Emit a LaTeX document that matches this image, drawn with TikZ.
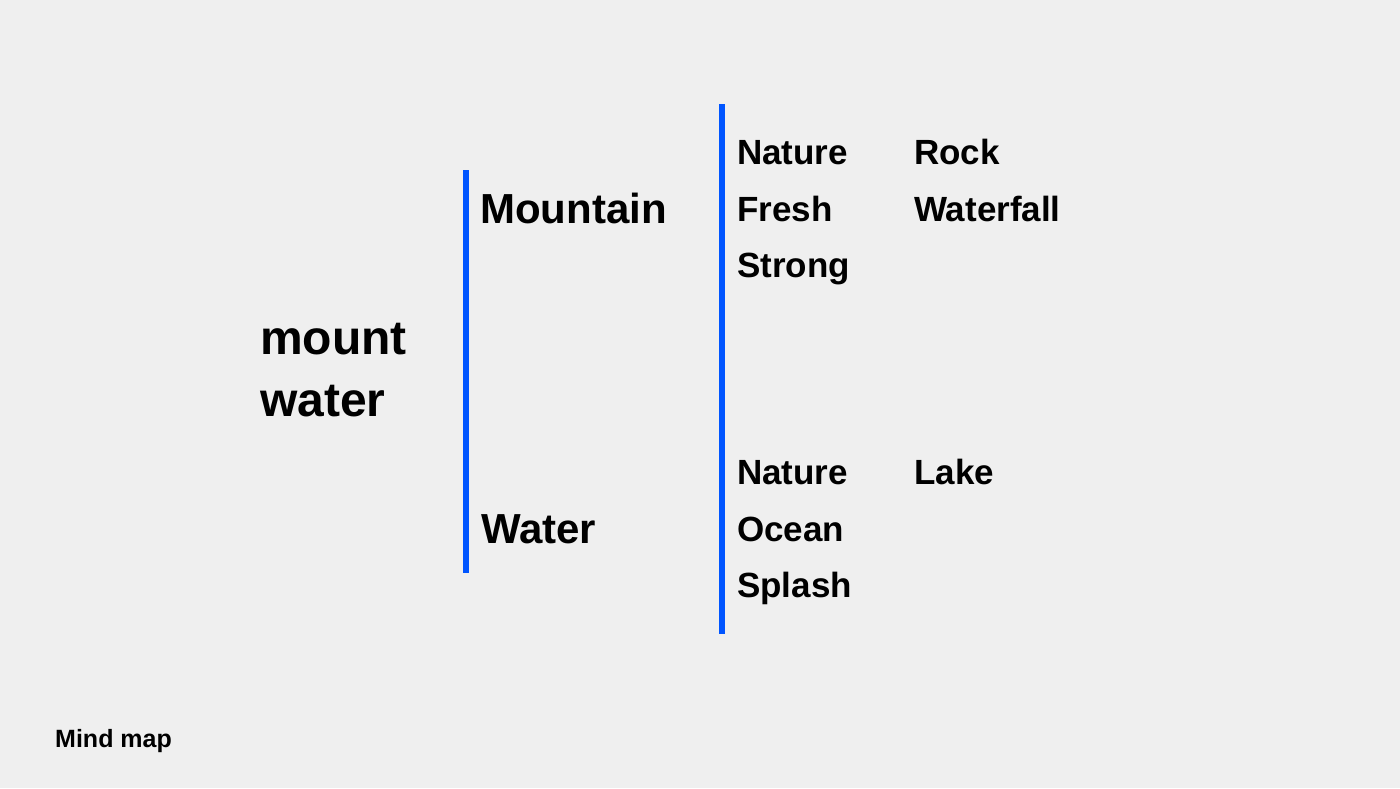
\documentclass[tikz,border=0pt]{standalone}
\usepackage{fontspec}
\setmainfont{Liberation Sans}
\definecolor{bggray}{RGB}{239,239,239}
\definecolor{barblue}{RGB}{0,85,255}
\tikzset{
  title/.style={anchor=base west, inner sep=0pt, font=\bfseries\fontsize{48}{58}\selectfont},
  topic/.style={anchor=base west, inner sep=0pt, font=\bfseries\fontsize{42}{50}\selectfont},
  leaf/.style={anchor=base west, inner sep=0pt, font=\bfseries\fontsize{35}{42}\selectfont},
  caption/.style={anchor=base west, inner sep=0pt, font=\bfseries\fontsize{25}{30}\selectfont},
  bar/.style={fill=barblue, draw=none}
}
\begin{document}
\begin{tikzpicture}[x=1pt,y=-1pt]
  \fill[bggray] (0,0) rectangle (1400,788);

  % bars
  \fill[bar] (463,170) rectangle (469,573);
  \fill[bar] (719,104) rectangle (725,634);

  % centre
  \node[title] (mount) at (260,354) {mount};
  \node[title] (water) at (260,416) {water};

  % topics
  \node[topic] (mountain) at (480,223) {Mountain};
  \node[topic] (waterT) at (481,543) {Water};

  % leaves of Mountain
  \node[leaf] (nature1) at (737,164) {Nature};
  \node[leaf] (fresh) at (737,221) {Fresh};
  \node[leaf] (strong) at (737,277) {Strong};
  \node[leaf] (rock) at (914,164) {Rock};
  \node[leaf] (waterfall) at (914,221) {Waterfall};

  % leaves of Water
  \node[leaf] (nature2) at (737,484) {Nature};
  \node[leaf] (ocean) at (737,541) {Ocean};
  \node[leaf] (splash) at (737,597) {Splash};
  \node[leaf] (lake) at (914,484) {Lake};

  \node[caption] (caption) at (55,747) {Mind map};
\end{tikzpicture}
\end{document}
